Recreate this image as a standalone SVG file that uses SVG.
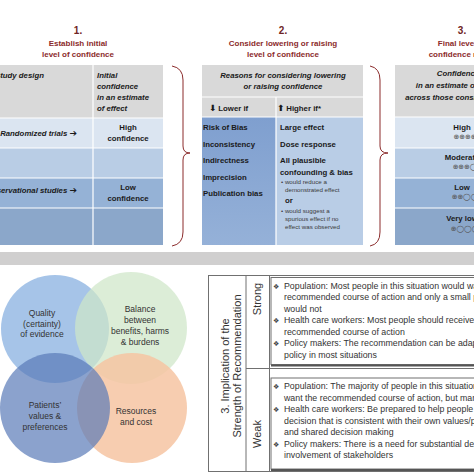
<svg xmlns="http://www.w3.org/2000/svg" width="474" height="474" viewBox="0 0 474 474">
<style>
text{font-family:"Liberation Sans",Arial,sans-serif}
.num{font-weight:bold;fill:#6e2424;font-size:10px;text-anchor:middle}
.step{font-weight:bold;fill:#8b2b2b;font-size:8px;text-anchor:middle}
.hd{font-weight:bold;font-style:italic;font-size:7.8px;fill:#1a1a1a}
.b{font-weight:bold;font-size:7.8px;fill:#1a1a1a}
.c{text-anchor:middle}
.e{text-anchor:end}
.s{font-size:6.2px;fill:#3a3a3a}
.dj{font-family:"DejaVu Sans",sans-serif}
.sym{font-family:"DejaVu Sans",sans-serif;font-size:6.8px;fill:#555;text-anchor:middle}
.brace{fill:none;stroke:#8b2b2b;stroke-width:1}
.sep{stroke:#fff;stroke-width:1.2}
.venn{font-size:8.5px;fill:#333;text-anchor:middle}
.rec{font-size:8.8px;fill:#333}
.bul{font-family:"DejaVu Sans",sans-serif;font-size:7px;fill:#444}
.lbl{font-size:11px;fill:#333;text-anchor:middle}
.big{font-size:11px;fill:#333;text-anchor:middle}
.frame{fill:none;stroke:#707070;stroke-width:1}
.box{fill:#fff;stroke:#707070;stroke-width:1}
.shadow{stroke:#555;stroke-width:2}
</style>
<defs>
  <linearGradient id="lowGrad" x1="0" y1="0" x2="0" y2="1">
    <stop offset="0" stop-color="#7f9fcf"/>
    <stop offset="1" stop-color="#95b1d8"/>
  </linearGradient>
</defs>

<g id="step1">
  <text class="num" x="78" y="34">1.</text>
  <text class="step" x="78" y="46">Establish initial</text>
  <text class="step" x="78" y="57">level of confidence</text>
  <rect x="0" y="65" width="163" height="53" fill="#d9d9d9"/>
  <rect x="0" y="118" width="163" height="30" fill="#dbe5f1"/>
  <rect x="0" y="148" width="163" height="30" fill="#b9cde5"/>
  <rect x="0" y="178" width="163" height="30" fill="#95b2d6"/>
  <rect x="0" y="208" width="163" height="37" fill="#8ba7ca"/>
  <line class="sep" x1="93" y1="65" x2="93" y2="245"/>
  <line class="sep" x1="0" y1="118" x2="163" y2="118"/>
  <line class="sep" x1="0" y1="148" x2="163" y2="148"/>
  <line class="sep" x1="0" y1="178" x2="163" y2="178"/>
  <line class="sep" x1="0" y1="208" x2="163" y2="208"/>
  <text class="hd" x="-5" y="78">Study design</text>
  <text class="hd" x="97" y="78">Initial</text>
  <text class="hd" x="97" y="89">confidence</text>
  <text class="hd" x="97" y="100">in an estimate</text>
  <text class="hd" x="97" y="111">of effect</text>
  <text class="hd e" x="77" y="136">Randomized trials <tspan class="dj" font-style="normal" font-size="9px">➔</tspan></text>
  <text class="b c" x="128" y="130">High</text>
  <text class="b c" x="128" y="141">confidence</text>
  <text class="hd e" x="77" y="193">Observational studies <tspan class="dj" font-style="normal" font-size="9px">➔</tspan></text>
  <text class="b c" x="128" y="190">Low</text>
  <text class="b c" x="128" y="201">confidence</text>
</g>

<g id="step2">
  <text class="num" x="283" y="34">2.</text>
  <text class="step" x="283" y="46">Consider lowering or raising</text>
  <text class="step" x="283" y="57">level of confidence</text>
  <rect x="202" y="65" width="161" height="52" fill="#d9d9d9"/>
  <rect x="202" y="117" width="74" height="128" fill="url(#lowGrad)"/>
  <rect x="276" y="117" width="87" height="128" fill="#b9cde6"/>
  <line class="sep" x1="202" y1="97" x2="363" y2="97"/>
  <line class="sep" x1="202" y1="117" x2="363" y2="117"/>
  <line class="sep" x1="276" y1="97" x2="276" y2="245"/>
  <text class="hd c" x="283" y="78">Reasons for considering lowering</text>
  <text class="hd c" x="283" y="89">or raising confidence</text>
  <text class="b" x="209" y="111"><tspan class="dj" font-size="8.5px">⬇</tspan> Lower if</text>
  <text class="b" x="277" y="111"><tspan class="dj" font-size="8.5px">⬆</tspan> Higher if*</text>
  <text class="b" x="203" y="130">Risk of Bias</text>
  <text class="b" x="203" y="147">Inconsistency</text>
  <text class="b" x="203" y="163">Indirectness</text>
  <text class="b" x="203" y="180">Imprecision</text>
  <text class="b" x="203" y="196">Publication bias</text>
  <text class="b" x="280" y="130">Large effect</text>
  <text class="b" x="280" y="147">Dose response</text>
  <text class="b" x="280" y="163">All plausible</text>
  <text class="b" x="280" y="174.5">confounding &amp; bias</text>
  <text class="s" x="281" y="184">• would reduce a</text>
  <text class="s" x="285" y="191.5">demonstrated effect</text>
  <text class="b" x="285" y="203">or</text>
  <text class="s" x="281" y="213">• would suggest a</text>
  <text class="s" x="285" y="221">spurious effect if no</text>
  <text class="s" x="285" y="229">effect was observed</text>
</g>

<g id="step3">
  <text class="num" x="462" y="34">3.</text>
  <text class="step" x="462" y="46">Final level of</text>
  <text class="step" x="462" y="57">confidence rating</text>
  <rect x="395" y="65" width="79" height="52" fill="#d9d9d9"/>
  <rect x="395" y="117" width="79" height="31" fill="#dbe5f1"/>
  <rect x="395" y="148" width="79" height="30" fill="#b9cde5"/>
  <rect x="395" y="178" width="79" height="30" fill="#95b2d6"/>
  <rect x="395" y="208" width="79" height="37" fill="#8ba7ca"/>
  <line class="sep" x1="395" y1="117" x2="474" y2="117"/>
  <line class="sep" x1="395" y1="148" x2="474" y2="148"/>
  <line class="sep" x1="395" y1="178" x2="474" y2="178"/>
  <line class="sep" x1="395" y1="208" x2="474" y2="208"/>
  <text class="hd c" x="458" y="76">Confidence</text>
  <text class="hd c" x="458" y="88">in an estimate of effect</text>
  <text class="hd c" x="458" y="100">across those considerations</text>
  <text class="b c" x="462" y="130">High</text>
  <text class="sym" x="465" y="138.5">⊕⊕⊕⊕</text>
  <text class="b c" x="462" y="160">Moderate</text>
  <text class="sym" x="465" y="168.5">⊕⊕⊕◯</text>
  <text class="b c" x="462" y="190">Low</text>
  <text class="sym" x="465" y="198.5">⊕⊕◯◯</text>
  <text class="b c" x="462" y="221">Very low</text>
  <text class="sym" x="465" y="230.5">⊕◯◯◯</text>
</g>

<g id="connectors">
  <path class="brace" d="M172,66 Q183,68 183,80 L183,146 Q183,153 190,153 Q183,153 183,160 L183,232 Q183,244 172,246"/>
  <path class="brace" d="M370,66 Q380,68 380,80 L380,146 Q380,153 388,153 Q380,153 380,160 L380,232 Q380,244 370,246"/>
</g>

<g id="band">
  <rect x="0" y="252" width="474" height="13" fill="#d0cfcf"/>
</g>

<g id="venn-quality">
  <circle cx="55" cy="329" r="54" fill="#90b5e2" fill-opacity="0.8"/>
</g>
<g id="venn-balance">
  <circle cx="131" cy="328" r="56" fill="#cfe6c8" fill-opacity="0.72"/>
</g>
<g id="venn-resources">
  <circle cx="132" cy="408" r="55" fill="#f6c4a2" fill-opacity="0.85"/>
</g>
<g id="venn-patients">
  <circle cx="55" cy="408" r="55" fill="#5a7bb8" fill-opacity="0.7"/>
</g>
<g id="venn-labels">
  <text class="venn" x="42" y="316">Quality</text>
  <text class="venn" x="42" y="326.5">(certainty)</text>
  <text class="venn" x="42" y="337">of evidence</text>
  <text class="venn" x="140" y="312">Balance</text>
  <text class="venn" x="140" y="323">between</text>
  <text class="venn" x="140" y="334">benefits, harms</text>
  <text class="venn" x="140" y="344.5">&amp; burdens</text>
  <text class="venn" x="45" y="408">Patients’</text>
  <text class="venn" x="45" y="419">values &amp;</text>
  <text class="venn" x="45" y="430">preferences</text>
  <text class="venn" x="136" y="414">Resources</text>
  <text class="venn" x="136" y="425">and cost</text>
</g>

<g id="recommendation">
  <rect class="frame" x="208.5" y="275.5" width="300" height="196"/>
  <line class="frame" x1="246" y1="275.5" x2="246" y2="471.5"/>
  <line class="frame" x1="269.5" y1="275.5" x2="269.5" y2="471.5"/>
  <line class="frame" x1="246" y1="368.5" x2="474" y2="368.5"/>
  <text class="big" transform="translate(229,366) rotate(-90)">3. Implication of the</text>
  <text class="big" transform="translate(241,366) rotate(-90)">Strength of Recommendation</text>
  <text class="lbl" transform="translate(261,299) rotate(-90)">Strong</text>
  <text class="lbl" transform="translate(261,434) rotate(-90)">Weak</text>
</g>

<g id="strong-box">
  <rect class="box" x="271" y="277.5" width="220" height="87"/>
  <line class="shadow" x1="271" y1="365.5" x2="474" y2="365.5"/>
  <text class="rec" x="273" y="288.5"><tspan class="bul">❖</tspan><tspan x="284">Population: Most people in this situation would want</tspan></text>
  <text class="rec" x="284" y="300">recommended course of action and only a small proportion</text>
  <text class="rec" x="284" y="311.5">would not</text>
  <text class="rec" x="273" y="323"><tspan class="bul">❖</tspan><tspan x="284">Health care workers: Most people should receive</tspan></text>
  <text class="rec" x="284" y="334.5">recommended course of action</text>
  <text class="rec" x="273" y="346"><tspan class="bul">❖</tspan><tspan x="284">Policy makers: The recommendation can be adapted</tspan></text>
  <text class="rec" x="284" y="357.5">policy in most situations</text>
</g>

<g id="weak-box">
  <rect class="box" x="271" y="378" width="220" height="91"/>
  <line class="shadow" x1="271" y1="470" x2="474" y2="470"/>
  <text class="rec" x="273" y="389"><tspan class="bul">❖</tspan><tspan x="284">Population: The majority of people in this situation</tspan></text>
  <text class="rec" x="284" y="400.5">want the recommended course of action, but many</text>
  <text class="rec" x="273" y="412"><tspan class="bul">❖</tspan><tspan x="284">Health care workers: Be prepared to help people</tspan></text>
  <text class="rec" x="284" y="423.5">decision that is consistent with their own values/preferences</text>
  <text class="rec" x="284" y="435">and shared decision making</text>
  <text class="rec" x="273" y="446.5"><tspan class="bul">❖</tspan><tspan x="284">Policy makers: There is a need for substantial debate</tspan></text>
  <text class="rec" x="284" y="458">involvement of stakeholders</text>
</g>
</svg>
